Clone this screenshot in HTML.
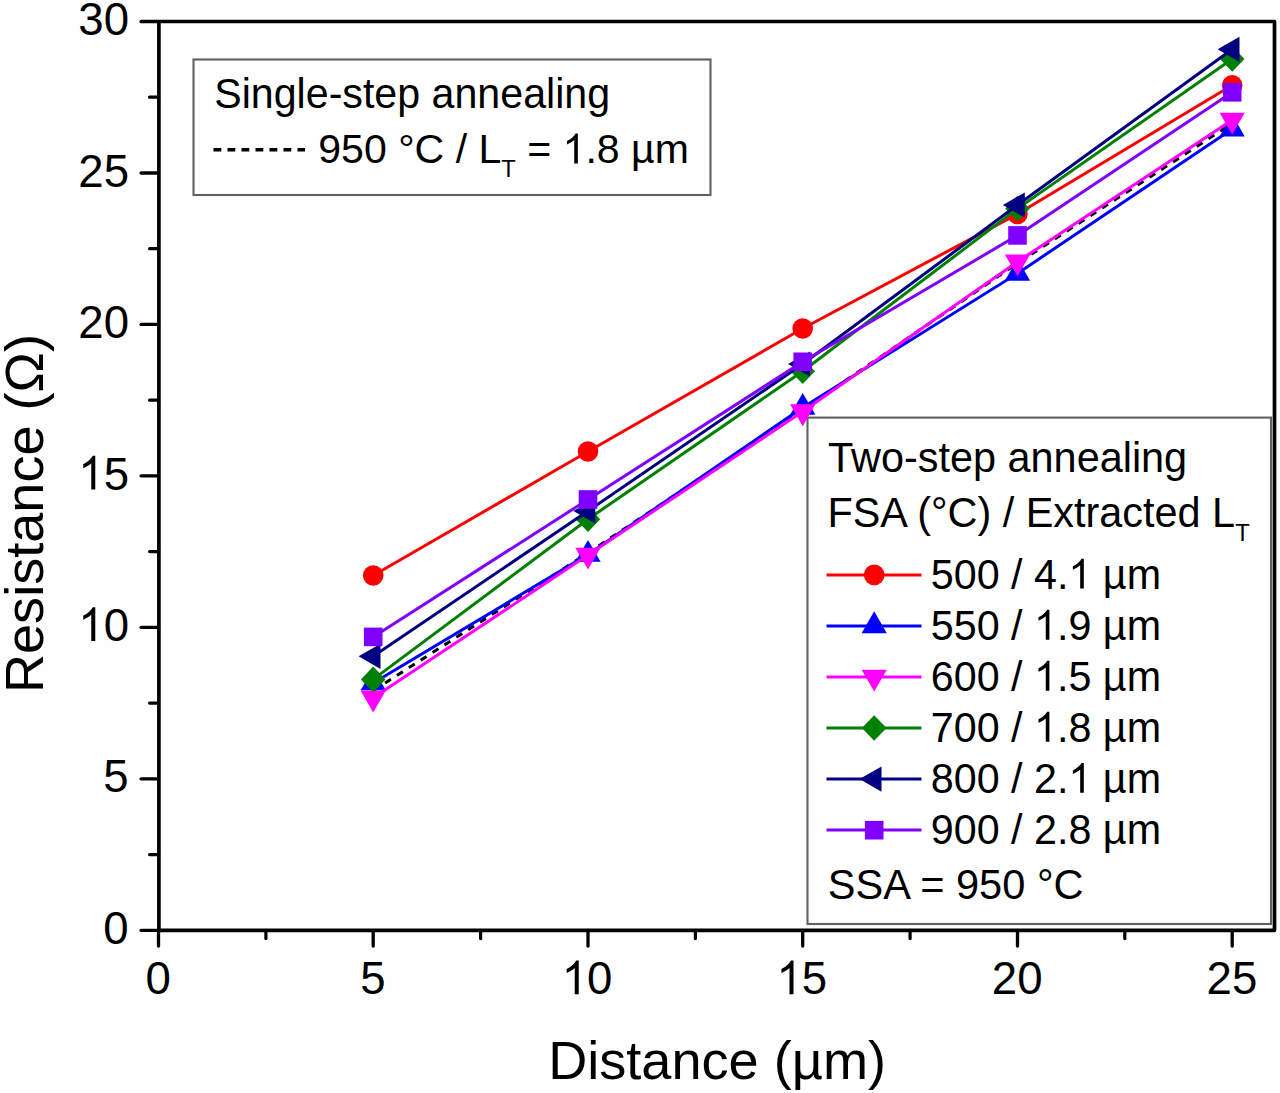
<!DOCTYPE html>
<html><head><meta charset="utf-8"><style>
html,body{margin:0;padding:0;background:#fefefe;overflow:hidden;}
svg{display:block;}
text{font-family:"Liberation Sans",sans-serif;fill:#000;}
</style></head><body>
<svg width="1280" height="1093" viewBox="0 0 1280 1093">
<rect x="0" y="0" width="1280" height="1093" fill="#fefefe"/>
<rect x="193.5" y="59.5" width="517" height="135.5" fill="#fff" stroke="#606060" stroke-width="2.1"/>
<g transform="matrix(1.0292,0,0,1.0400,214.24,107.80)"><text x="0" y="0" font-size="40">Single-step annealing</text></g>
<line x1="213.5" y1="149.8" x2="305" y2="149.8" stroke="#000" stroke-width="3.4" stroke-dasharray="7.8 6.2"/>
<g transform="matrix(1.0269,0,0,1.0400,318.25,163.40)"><text x="0" y="0" font-size="40">950 °C / L<tspan font-size="23" dy="13.5">T</tspan><tspan dy="-13.5"> = 1.8 µm</tspan></text><rect x="239.77" y="-28.12" width="19.59" height="29.30" fill="#fff"/><path d="M252.80 0.00L249.28 0.00L249.28 -22.40Q248.01 -21.19 245.94 -19.98Q243.87 -18.77 242.21 -18.16L242.21 -21.56Q245.20 -22.97 247.43 -24.96Q249.65 -26.95 250.57 -28.75L252.80 -28.75Z" fill="#000"/></g>
<rect x="807.5" y="417.6" width="463.5" height="506.4" fill="#fff" stroke="#606060" stroke-width="2.1"/>
<g transform="matrix(1.0353,0,0,1.0400,828.06,471.50)"><text x="0" y="0" font-size="40">Two-step annealing</text></g>
<g transform="matrix(1.0353,0,0,1.0400,827.39,526.60)"><text x="0" y="0" font-size="40">FSA (°C) / Extracted L<tspan font-size="23" dy="13.5">T</tspan></text></g>
<line x1="826.5" y1="574.9" x2="921.5" y2="574.9" stroke="#FF0000" stroke-width="3"/>
<circle cx="874.2" cy="574.9" r="10.3" fill="#FF0000"/>
<g transform="matrix(1.0320,0,0,1.0400,930.74,588.60)"><text x="0" y="0" font-size="40">500 / 4.1 µm</text><rect x="135.29" y="-28.12" width="19.59" height="29.30" fill="#fff"/><path d="M148.32 0.00L144.80 0.00L144.80 -22.40Q143.53 -21.19 141.46 -19.98Q139.39 -18.77 137.73 -18.16L137.73 -21.56Q140.72 -22.97 142.95 -24.96Q145.17 -26.95 146.09 -28.75L148.32 -28.75Z" fill="#000"/></g>
<line x1="826.5" y1="625.9" x2="921.5" y2="625.9" stroke="#0000FF" stroke-width="3"/>
<path d="M874.2 611.3L886.8 633.2L861.6 633.2Z" fill="#0000FF"/>
<g transform="matrix(1.0320,0,0,1.0400,930.74,639.65)"><text x="0" y="0" font-size="40">550 / 1.9 µm</text><rect x="101.94" y="-28.12" width="19.59" height="29.30" fill="#fff"/><path d="M114.97 0.00L111.46 0.00L111.46 -22.40Q110.19 -21.19 108.12 -19.98Q106.05 -18.77 104.39 -18.16L104.39 -21.56Q107.37 -22.97 109.60 -24.96Q111.83 -26.95 112.74 -28.75L114.97 -28.75Z" fill="#000"/></g>
<line x1="826.5" y1="677.0" x2="921.5" y2="677.0" stroke="#FF00FF" stroke-width="3"/>
<path d="M874.2 691.6L886.8 669.7L861.6 669.7Z" fill="#FF00FF"/>
<g transform="matrix(1.0320,0,0,1.0400,930.74,690.70)"><text x="0" y="0" font-size="40">600 / 1.5 µm</text><rect x="101.94" y="-28.12" width="19.59" height="29.30" fill="#fff"/><path d="M114.97 0.00L111.46 0.00L111.46 -22.40Q110.19 -21.19 108.12 -19.98Q106.05 -18.77 104.39 -18.16L104.39 -21.56Q107.37 -22.97 109.60 -24.96Q111.83 -26.95 112.74 -28.75L114.97 -28.75Z" fill="#000"/></g>
<line x1="826.5" y1="728.0" x2="921.5" y2="728.0" stroke="#008000" stroke-width="3"/>
<path d="M874.2 715.2L886.5 728.0L874.2 740.8L861.9 728.0Z" fill="#008000"/>
<g transform="matrix(1.0320,0,0,1.0400,930.74,741.75)"><text x="0" y="0" font-size="40">700 / 1.8 µm</text><rect x="101.94" y="-28.12" width="19.59" height="29.30" fill="#fff"/><path d="M114.97 0.00L111.46 0.00L111.46 -22.40Q110.19 -21.19 108.12 -19.98Q106.05 -18.77 104.39 -18.16L104.39 -21.56Q107.37 -22.97 109.60 -24.96Q111.83 -26.95 112.74 -28.75L114.97 -28.75Z" fill="#000"/></g>
<line x1="826.5" y1="779.1" x2="921.5" y2="779.1" stroke="#000080" stroke-width="3"/>
<path d="M859.6 779.1L881.5 766.5L881.5 791.7Z" fill="#000080"/>
<g transform="matrix(1.0320,0,0,1.0400,930.74,792.80)"><text x="0" y="0" font-size="40">800 / 2.1 µm</text><rect x="135.29" y="-28.12" width="19.59" height="29.30" fill="#fff"/><path d="M148.32 0.00L144.80 0.00L144.80 -22.40Q143.53 -21.19 141.46 -19.98Q139.39 -18.77 137.73 -18.16L137.73 -21.56Q140.72 -22.97 142.95 -24.96Q145.17 -26.95 146.09 -28.75L148.32 -28.75Z" fill="#000"/></g>
<line x1="826.5" y1="830.1" x2="921.5" y2="830.1" stroke="#8000FF" stroke-width="3"/>
<rect x="864.9" y="820.9" width="18.6" height="18.6" fill="#8000FF"/>
<g transform="matrix(1.0320,0,0,1.0400,930.74,843.85)"><text x="0" y="0" font-size="40">900 / 2.8 µm</text></g>
<g transform="matrix(1.0397,0,0,1.0400,827.72,898.60)"><text x="0" y="0" font-size="40">SSA = 950 °C</text></g>
<polyline points="373.2,690.6 588.0,553.0 802.7,410.0 1017.5,263.2 1232.2,123.4" fill="none" stroke="#000" stroke-width="3" stroke-dasharray="7 7.1"/>
<polyline points="373.2,575.5 588.0,451.5 802.7,328.5 1017.5,214.0 1232.2,85.2" fill="none" stroke="#FF0000" stroke-width="3"/>
<circle cx="373.2" cy="575.5" r="10.3" fill="#FF0000"/>
<circle cx="588.0" cy="451.5" r="10.3" fill="#FF0000"/>
<circle cx="802.7" cy="328.5" r="10.3" fill="#FF0000"/>
<circle cx="1017.5" cy="214.0" r="10.3" fill="#FF0000"/>
<circle cx="1232.2" cy="85.2" r="10.3" fill="#FF0000"/>
<polyline points="373.2,683.0 588.0,554.5 802.7,407.5 1017.5,273.4 1232.2,129.1" fill="none" stroke="#0000FF" stroke-width="3"/>
<path d="M373.2 668.4L385.9 690.3L360.6 690.3Z" fill="#0000FF"/>
<path d="M588.0 539.9L600.6 561.8L575.3 561.8Z" fill="#0000FF"/>
<path d="M802.7 392.9L815.4 414.8L790.1 414.8Z" fill="#0000FF"/>
<path d="M1017.5 258.8L1030.1 280.7L1004.8 280.7Z" fill="#0000FF"/>
<path d="M1232.2 114.5L1244.8 136.4L1219.6 136.4Z" fill="#0000FF"/>
<polyline points="373.2,697.8 588.0,555.0 802.7,411.6 1017.5,261.7 1232.2,120.0" fill="none" stroke="#FF00FF" stroke-width="3"/>
<path d="M373.2 712.4L385.9 690.5L360.6 690.5Z" fill="#FF00FF"/>
<path d="M588.0 569.6L600.6 547.7L575.3 547.7Z" fill="#FF00FF"/>
<path d="M802.7 426.2L815.4 404.3L790.1 404.3Z" fill="#FF00FF"/>
<path d="M1017.5 276.3L1030.1 254.4L1004.8 254.4Z" fill="#FF00FF"/>
<path d="M1232.2 134.6L1244.8 112.7L1219.6 112.7Z" fill="#FF00FF"/>
<polyline points="373.2,679.4 588.0,519.2 802.7,371.2 1017.5,208.6 1232.2,59.0" fill="none" stroke="#008000" stroke-width="3"/>
<path d="M373.2 666.6L385.5 679.4L373.2 692.2L360.9 679.4Z" fill="#008000"/>
<path d="M588.0 506.4L600.3 519.2L588.0 532.0L575.7 519.2Z" fill="#008000"/>
<path d="M802.7 358.4L815.0 371.2L802.7 384.0L790.4 371.2Z" fill="#008000"/>
<path d="M1017.5 195.8L1029.8 208.6L1017.5 221.4L1005.2 208.6Z" fill="#008000"/>
<path d="M1232.2 46.2L1244.5 59.0L1232.2 71.8L1219.9 59.0Z" fill="#008000"/>
<polyline points="373.2,656.3 588.0,511.0 802.7,364.0 1017.5,205.0 1232.2,49.3" fill="none" stroke="#000080" stroke-width="3"/>
<path d="M358.6 656.3L380.5 643.7L380.5 668.9Z" fill="#000080"/>
<path d="M573.4 511.0L595.3 498.4L595.3 523.6Z" fill="#000080"/>
<path d="M788.1 364.0L810.0 351.4L810.0 376.6Z" fill="#000080"/>
<path d="M1002.9 205.0L1024.8 192.4L1024.8 217.6Z" fill="#000080"/>
<path d="M1217.6 49.3L1239.5 36.7L1239.5 61.9Z" fill="#000080"/>
<polyline points="373.2,636.9 588.0,499.5 802.7,361.8 1017.5,235.4 1232.2,92.3" fill="none" stroke="#8000FF" stroke-width="3"/>
<rect x="363.9" y="627.6" width="18.6" height="18.6" fill="#8000FF"/>
<rect x="578.7" y="490.2" width="18.6" height="18.6" fill="#8000FF"/>
<rect x="793.4" y="352.5" width="18.6" height="18.6" fill="#8000FF"/>
<rect x="1008.2" y="226.1" width="18.6" height="18.6" fill="#8000FF"/>
<rect x="1222.9" y="83.0" width="18.6" height="18.6" fill="#8000FF"/>
<path d="M158.9 21.5V930.3H1274.5V21.5Z" fill="none" stroke="#000" stroke-width="3.7" stroke-linejoin="round"/>
<line x1="141.1" y1="930.3" x2="158.5" y2="930.3" stroke="#000" stroke-width="3.3" stroke-linecap="round"/>
<g transform="matrix(1.1400,0,0,1.1714,103.36,943.90)"><text x="0" y="0" font-size="40">0</text></g>
<line x1="141.1" y1="778.8" x2="158.5" y2="778.8" stroke="#000" stroke-width="3.3" stroke-linecap="round"/>
<g transform="matrix(1.1400,0,0,1.1714,103.36,792.43)"><text x="0" y="0" font-size="40">5</text></g>
<line x1="141.1" y1="627.4" x2="158.5" y2="627.4" stroke="#000" stroke-width="3.3" stroke-linecap="round"/>
<g transform="matrix(1.1400,0,0,1.1714,78.28,640.97)"><text x="0" y="0" font-size="40">10</text><rect x="1.88" y="-28.12" width="19.59" height="29.30" fill="#fefefe"/><path d="M14.90 0.00L11.39 0.00L11.39 -22.40Q10.12 -21.19 8.05 -19.98Q5.98 -18.77 4.32 -18.16L4.32 -21.56Q7.30 -22.97 9.53 -24.96Q11.76 -26.95 12.68 -28.75L14.90 -28.75Z" fill="#000"/></g>
<line x1="141.1" y1="475.9" x2="158.5" y2="475.9" stroke="#000" stroke-width="3.3" stroke-linecap="round"/>
<g transform="matrix(1.1400,0,0,1.1714,78.28,489.50)"><text x="0" y="0" font-size="40">15</text><rect x="1.88" y="-28.12" width="19.59" height="29.30" fill="#fefefe"/><path d="M14.90 0.00L11.39 0.00L11.39 -22.40Q10.12 -21.19 8.05 -19.98Q5.98 -18.77 4.32 -18.16L4.32 -21.56Q7.30 -22.97 9.53 -24.96Q11.76 -26.95 12.68 -28.75L14.90 -28.75Z" fill="#000"/></g>
<line x1="141.1" y1="324.4" x2="158.5" y2="324.4" stroke="#000" stroke-width="3.3" stroke-linecap="round"/>
<g transform="matrix(1.1400,0,0,1.1714,78.28,338.03)"><text x="0" y="0" font-size="40">20</text></g>
<line x1="141.1" y1="173.0" x2="158.5" y2="173.0" stroke="#000" stroke-width="3.3" stroke-linecap="round"/>
<g transform="matrix(1.1400,0,0,1.1714,78.28,186.57)"><text x="0" y="0" font-size="40">25</text></g>
<line x1="141.1" y1="21.5" x2="158.5" y2="21.5" stroke="#000" stroke-width="3.3" stroke-linecap="round"/>
<g transform="matrix(1.1400,0,0,1.1714,78.28,35.10)"><text x="0" y="0" font-size="40">30</text></g>
<line x1="149.6" y1="854.6" x2="158.5" y2="854.6" stroke="#000" stroke-width="3.2" stroke-linecap="round"/>
<line x1="149.6" y1="703.1" x2="158.5" y2="703.1" stroke="#000" stroke-width="3.2" stroke-linecap="round"/>
<line x1="149.6" y1="551.6" x2="158.5" y2="551.6" stroke="#000" stroke-width="3.2" stroke-linecap="round"/>
<line x1="149.6" y1="400.2" x2="158.5" y2="400.2" stroke="#000" stroke-width="3.2" stroke-linecap="round"/>
<line x1="149.6" y1="248.7" x2="158.5" y2="248.7" stroke="#000" stroke-width="3.2" stroke-linecap="round"/>
<line x1="149.6" y1="97.2" x2="158.5" y2="97.2" stroke="#000" stroke-width="3.2" stroke-linecap="round"/>
<line x1="158.5" y1="930.3" x2="158.5" y2="946.1" stroke="#000" stroke-width="3.3" stroke-linecap="round"/>
<g transform="matrix(1.1400,0,0,1.1786,145.39,994.30)"><text x="0" y="0" font-size="40">0</text></g>
<line x1="373.2" y1="930.3" x2="373.2" y2="946.1" stroke="#000" stroke-width="3.3" stroke-linecap="round"/>
<g transform="matrix(1.1400,0,0,1.1786,360.13,994.30)"><text x="0" y="0" font-size="40">5</text></g>
<line x1="588.0" y1="930.3" x2="588.0" y2="946.1" stroke="#000" stroke-width="3.3" stroke-linecap="round"/>
<g transform="matrix(1.1400,0,0,1.1786,561.76,994.30)"><text x="0" y="0" font-size="40">10</text><rect x="1.88" y="-28.12" width="19.59" height="29.30" fill="#fefefe"/><path d="M14.90 0.00L11.39 0.00L11.39 -22.40Q10.12 -21.19 8.05 -19.98Q5.98 -18.77 4.32 -18.16L4.32 -21.56Q7.30 -22.97 9.53 -24.96Q11.76 -26.95 12.68 -28.75L14.90 -28.75Z" fill="#000"/></g>
<line x1="802.7" y1="930.3" x2="802.7" y2="946.1" stroke="#000" stroke-width="3.3" stroke-linecap="round"/>
<g transform="matrix(1.1400,0,0,1.1786,776.50,994.30)"><text x="0" y="0" font-size="40">15</text><rect x="1.88" y="-28.12" width="19.59" height="29.30" fill="#fefefe"/><path d="M14.90 0.00L11.39 0.00L11.39 -22.40Q10.12 -21.19 8.05 -19.98Q5.98 -18.77 4.32 -18.16L4.32 -21.56Q7.30 -22.97 9.53 -24.96Q11.76 -26.95 12.68 -28.75L14.90 -28.75Z" fill="#000"/></g>
<line x1="1017.5" y1="930.3" x2="1017.5" y2="946.1" stroke="#000" stroke-width="3.3" stroke-linecap="round"/>
<g transform="matrix(1.1400,0,0,1.1786,991.81,994.30)"><text x="0" y="0" font-size="40">20</text></g>
<line x1="1232.2" y1="930.3" x2="1232.2" y2="946.1" stroke="#000" stroke-width="3.3" stroke-linecap="round"/>
<g transform="matrix(1.1400,0,0,1.1786,1206.55,994.30)"><text x="0" y="0" font-size="40">25</text></g>
<line x1="265.9" y1="930.3" x2="265.9" y2="938.6" stroke="#000" stroke-width="3.2" stroke-linecap="round"/>
<line x1="480.6" y1="930.3" x2="480.6" y2="938.6" stroke="#000" stroke-width="3.2" stroke-linecap="round"/>
<line x1="695.4" y1="930.3" x2="695.4" y2="938.6" stroke="#000" stroke-width="3.2" stroke-linecap="round"/>
<line x1="910.1" y1="930.3" x2="910.1" y2="938.6" stroke="#000" stroke-width="3.2" stroke-linecap="round"/>
<line x1="1124.8" y1="930.3" x2="1124.8" y2="938.6" stroke="#000" stroke-width="3.2" stroke-linecap="round"/>
<g transform="matrix(1.0826,0,0,1.0804,548.17,1078.70)"><text x="0" y="0" font-size="50">Distance (µm)</text></g>
<g transform="matrix(0,-1.0818,1.0804,0,43.00,693.03)"><text x="0" y="0" font-size="50">Resistance (Ω)</text></g>
</svg>
</body></html>
